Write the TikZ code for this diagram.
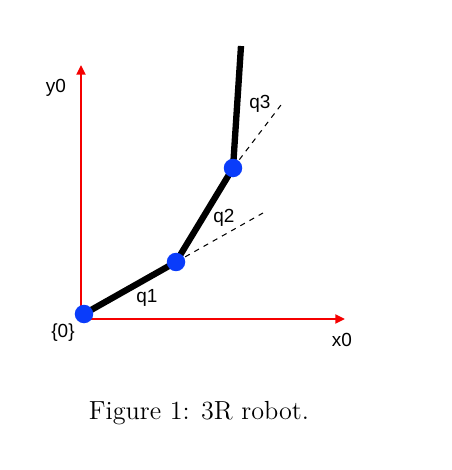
\documentclass[tikz,border=0pt]{standalone}
\usepackage{fontspec}
\usetikzlibrary{arrows.meta}
\newfontfamily\labelfont{Liberation Sans}
\definecolor{axisred}{RGB}{245,0,0}
\definecolor{jointblue}{RGB}{10,60,250}

\tikzset{
    axis/.style={axisred,line width=1.4pt,-{Triangle[length=5.5pt,width=5pt]}},
    link/.style={black,line width=3.6pt},
    guide/.style={black,dashed,line width=0.6pt},
    joint/.style={circle,fill=jointblue,inner sep=0pt,minimum size=0.37cm},
    lbl/.style={font=\labelfont\fontsize{10.8}{12}\selectfont}
}

\begin{document}
\begin{tikzpicture}[scale=1]
    \useasboundingbox (0,0) rectangle (9.04,9.4);

    % Base frame
    \coordinate (o) at (1.62,3.02);
    \coordinate (xend) at (6.90,3.02);
    \coordinate (yend) at (1.62,8.10);
    \draw[axis] (o) -- (xend);
    \draw[axis] (o) -- (yend);
    \node[lbl] (x0) at (6.84,2.60) {x0};
    \node[lbl] (y0) at (1.12,7.64) {y0};
    \node[lbl] (frame) at (1.26,2.74) {\{0\}};

    % Joint positions
    \coordinate (p0) at (1.68,3.12);
    \coordinate (p1) at (3.52,4.16);
    \coordinate (p2) at (4.66,6.04);
    \coordinate (tip) at (4.82,8.48);

    % Extended link directions
    \coordinate (d1) at (5.26,5.14);
    \coordinate (d2) at (5.68,7.38);
    \draw[guide] (p1) -- (d1);
    \draw[guide] (p2) -- (d2);

    % Links
    \draw[link] (p0) -- (p1) -- (p2) -- (tip);

    % Joints
    \node[joint] (j0) at (p0) {};
    \node[joint] (j1) at (p1) {};
    \node[joint] (j2) at (p2) {};

    % Joint angles
    \node[lbl] (q1) at (2.94,3.44) {q1};
    \node[lbl] (q2) at (4.48,5.04) {q2};
    \node[lbl] (q3) at (5.20,7.32) {q3};

    % Caption
    \node[font=\fontsize{14.9}{18}\selectfont] (caption) at (3.98,1.14) {Figure 1: 3R robot.};
\end{tikzpicture}
\end{document}
